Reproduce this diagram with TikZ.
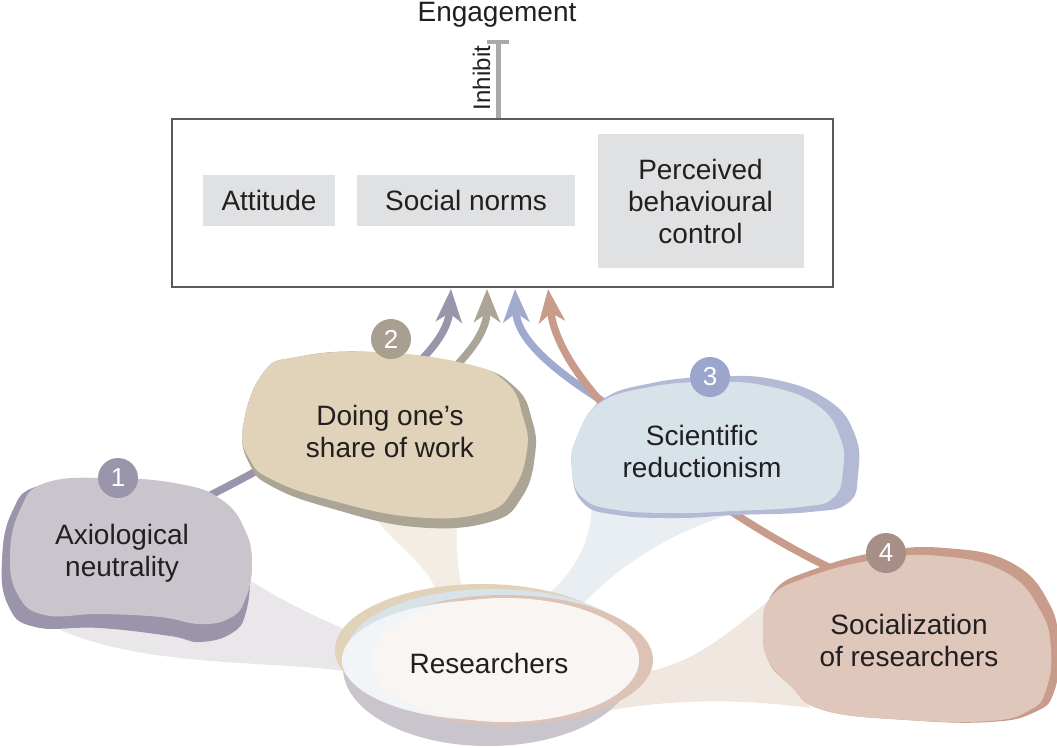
\documentclass[tikz,border=0pt]{standalone}
\usepackage{fontspec}
\setmainfont{Liberation Sans}
\usetikzlibrary{arrows.meta}
\definecolor{txt}{HTML}{231F20}
\definecolor{boxline}{HTML}{5A5B5D}
\definecolor{inbox}{HTML}{E0E1E3}
\definecolor{inhgray}{HTML}{A7A9AC}
\definecolor{purpD}{HTML}{9B95AC}
\definecolor{purpF}{HTML}{CAC5CD}
\definecolor{tanD}{HTML}{ACA596}
\definecolor{tanF}{HTML}{E0D3B9}
\definecolor{tanC}{HTML}{A89F91}
\definecolor{bluD}{HTML}{B3BAD6}
\definecolor{bluF}{HTML}{D7E2E9}
\definecolor{bluA}{HTML}{A0AACE}
\definecolor{bluC}{HTML}{9CA6CD}
\definecolor{salD}{HTML}{C89B8A}
\definecolor{salF}{HTML}{DFC7BB}
\definecolor{salC}{HTML}{A78F88}
\definecolor{ribP}{HTML}{E9E7EA}
\definecolor{ribT}{HTML}{F3EDE4}
\definecolor{ribB}{HTML}{E8EEF2}
\definecolor{ribS}{HTML}{F1E7E1}
\definecolor{resIn}{HTML}{F8F5F2}
\definecolor{resPale}{HTML}{F2F5F8}
\begin{document}
\begin{tikzpicture}[x=1pt,y=-1pt,
  every node/.style={text=txt},
  bigtxt/.style={font=\fontsize{28}{32}\selectfont, align=center, inner sep=0pt},
  inb/.style={fill=inbox, inner sep=0pt, font=\fontsize{28}{32}\selectfont, align=center},
  numc/.style={circle, minimum size=40pt, inner sep=0pt, text=white, font=\fontsize{26}{26}\selectfont},
  conn/.style={line width=7.5pt, -{Stealth[length=33pt,width=26pt,inset=9pt]}},
  blob/.style={smooth cycle, tension=0.75}]
\useasboundingbox (0,0) rectangle (1057,747);

% ---- faint ribbons towards the researchers ----
\fill[ribP] (222,562) .. controls (270,595) and (310,615) .. (352,632) -- (352,672)
  .. controls (270,660) and (150,668) .. (60,630) -- cycle;
\fill[ribT] (375,518) .. controls (400,550) and (430,565) .. (440,600) -- (466,615)
  -- (462,590) .. controls (457,560) and (455,540) .. (458,518) -- cycle;
\fill[ribB] (592,505) .. controls (590,550) and (570,575) .. (545,597) -- (585,602)
  .. controls (625,560) and (680,527) .. (752,508) -- cycle;
\fill[ribS] (772,598) .. controls (720,640) and (690,665) .. (640,673) -- (600,712)
  .. controls (680,697) and (750,700) .. (810,708) -- cycle;

% ---- researchers ellipse (layered rims) ----
\fill[purpF] (488,668) ellipse [x radius=145pt, y radius=78pt];
\fill[tanF] (482,650) ellipse [x radius=147pt, y radius=66pt];
\fill[bluF] (493,652) ellipse [x radius=146pt, y radius=63pt];
\fill[salF!90!salD] (505,660) ellipse [x radius=148pt, y radius=65pt];
\fill[resPale] (487,660) ellipse [x radius=145pt, y radius=60pt];
\fill[resIn] (505,660) ellipse [x radius=134pt, y radius=62pt];
\node[bigtxt, anchor=base] (res) at (489,673) {Researchers};

% ---- main box ----
\node[draw=boxline, line width=2pt, minimum width=661pt, minimum height=168pt, inner sep=0pt] (box) at (502.5,203) {};
\node[inb, minimum width=132pt, minimum height=51pt] (att) at (269,200) {Attitude};
\node[inb, minimum width=218pt, minimum height=51pt] (soc) at (466,200) {Social norms};
\node[inb, minimum width=206pt, minimum height=134pt] (pbc) at (700.5,201) {Perceived\\behavioural\\control};

% ---- inhibit ----
\coordinate (inhTop) at (498,40);
\draw[inhgray, line width=5pt, -{Bar[width=22pt,line width=4pt]}] (box.north -| inhTop) -- (inhTop);
\node[font=\fontsize{24}{24}\selectfont, rotate=90, inner sep=0pt] (inh) at (481.5,78) {Inhibit};
\node[font=\fontsize{28}{28}\selectfont, anchor=base, inner sep=0pt] (eng) at (497,21) {Engagement};

% ---- connectors ----
\coordinate (p0) at (195,503);
\coordinate (tp) at (451,289);
\coordinate (t0) at (450,372);
\coordinate (tt) at (487,289);
\coordinate (b0) at (612,407);
\coordinate (tb) at (515,289);
\coordinate (s0) at (845,575);
\coordinate (ts) at (548,289);
\draw[conn, purpD] (p0) .. controls (380,410) and (447,350) .. (tp);
\draw[conn, tanD] (t0) .. controls (478,345) and (487,325) .. (tt);
\draw[conn, bluA] (b0) .. controls (555,372) and (517,340) .. (tb);
\draw[conn, salD] (s0) .. controls (700,508) and (560,390) .. (ts);

% ---- blob 1 ----
\fill[purpD] plot[blob] coordinates {(38,486) (105,481) (180,488) (222,505) (245,535) (250,570) (246,612) (232,633) (200,642) (170,636) (100,628) (35,627) (8,605) (2,560) (12,512)};
\fill[purpF] plot[blob] coordinates {(45,483) (110,478) (180,484) (222,500) (245,530) (252,565) (245,600) (230,618) (200,624) (160,617) (100,614) (45,615) (18,595) (10,555) (20,510)};
\node[numc, fill=purpD] (n1) at (118,478) {1};
\node[bigtxt] (ax) at (122,553) {Axiological\\neutrality};

% ---- blob 2 ----
\fill[tanD] plot[blob] coordinates {(263,373) (297,357) (373,352) (470,365) (515,387) (532,420) (535,455) (522,497) (490,522) (415,527) (330,508) (273,487) (250,465) (243,427)};
\fill[tanF] plot[blob] coordinates {(263,373) (297,357) (373,352) (463,363) (507,383) (523,417) (527,450) (513,490) (483,513) (413,517) (330,500) (273,480) (250,460) (243,427)};
\node[numc, fill=tanC] (n2) at (391,339) {2};
\node[bigtxt] (do) at (390,431) {Doing one’s\\share of work};

% ---- blob 3 ----
\fill[bluD] plot[blob] coordinates {(602,400) (652,383) (712,377) (772,379) (828,400) (855,435) (858,475) (848,503) (810,512) (735,515) (677,518) (617,515) (583,503) (572,470) (577,437)};
\fill[bluF] plot[blob] coordinates {(600,403) (650,387) (710,382) (767,386) (817,405) (840,437) (843,470) (833,498) (800,507) (733,511) (677,513) (617,510) (583,498) (572,470) (577,437)};
\node[numc, fill=bluC] (n3) at (710,377) {3};
\node[bigtxt] (sci) at (702,451) {Scientific\\reductionism};

% ---- blob 4 ----
\fill[salD] plot[blob] coordinates {(765,625) (775,590) (812,570) (878,552) (945,548) (1012,563) (1050,605) (1058,650) (1054,692) (1035,712) (990,722) (907,720) (823,710) (790,685) (768,660)};
\fill[salF] plot[blob] coordinates {(763,630) (770,598) (805,578) (873,560) (940,556) (1005,572) (1040,610) (1051,650) (1046,690) (1030,710) (990,721) (907,720) (823,710) (790,685) (768,660)};
\node[numc, fill=salC] (n4) at (886,553) {4};
\node[bigtxt] (socr) at (909,640) {Socialization\\of researchers};
\end{tikzpicture}
\end{document}
